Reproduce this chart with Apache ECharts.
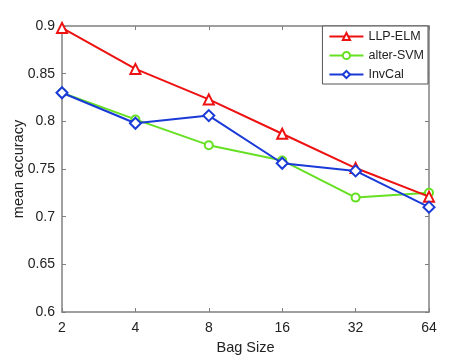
<!DOCTYPE html>
<html>
<head>
<meta charset="utf-8">
<script src="https://cdn.jsdelivr.net/npm/echarts@6/dist/echarts.min.js"></script>
<style>html,body{margin:0;padding:0;background:#fff}#c{width:474px;height:357px}</style>
</head>
<body>
<div id="c"></div>
<script>
var categories = ['2', '4', '8', '16', '32', '64'];
var llpElm = [0.898, 0.855, 0.823, 0.787, 0.751, 0.721];
var alterSvm = [0.830, 0.802, 0.775, 0.759, 0.720, 0.725];
var invCal = [0.830, 0.798, 0.806, 0.756, 0.748, 0.710];
var seriesNames = ['LLP-ELM', 'alter-SVM', 'InvCal'];

var font = 'Liberation Sans, Arial, sans-serif';
var axisLineStyle = {color: '#808080', width: 1.5};
var chart = echarts.init(document.getElementById('c'));
chart.setOption({
  animation: false,
  grid: {left: 62, right: 45, top: 26, bottom: 45, outerBoundsMode: 'none', containLabel: false},
  legend: {
    right: 46, top: 26, orient: 'vertical',
    data: seriesNames,
    backgroundColor: '#fff',
    borderColor: '#555', borderWidth: 1,
    padding: [4, 4, 3, 6],
    itemWidth: 34, itemHeight: 9, itemGap: 6,
    textStyle: {fontFamily: font, fontSize: 12.5, color: '#222'}
  },
  xAxis: [{
    type: 'category', data: categories, boundaryGap: false,
    name: 'Bag Size', nameLocation: 'middle', nameGap: 28,
    nameTextStyle: {fontFamily: font, fontSize: 14.5, color: '#222'},
    axisLine: {lineStyle: axisLineStyle},
    axisTick: {inside: true, length: 4, lineStyle: {color: '#808080'}},
    axisLabel: {fontFamily: font, fontSize: 14, color: '#222', margin: 9},
    splitLine: {show: false}
  }, {
    type: 'category', data: categories, boundaryGap: false, position: 'top',
    axisLine: {lineStyle: axisLineStyle},
    axisTick: {inside: true, length: 4, lineStyle: {color: '#808080'}},
    axisLabel: {show: false}
  }],
  yAxis: [{
    type: 'value', min: 0.6, max: 0.9, interval: 0.05,
    name: 'mean accuracy', nameLocation: 'middle', nameGap: 36, nameMoveOverlap: false,
    nameTextStyle: {fontFamily: font, fontSize: 14.5, color: '#222'},
    axisLine: {show: true, lineStyle: axisLineStyle},
    axisTick: {show: true, inside: true, length: 4, lineStyle: {color: '#808080'}},
    axisLabel: {fontFamily: font, fontSize: 14, color: '#222', margin: 7,
      formatter: function (v) { return String(+v.toFixed(2)); }},
    splitLine: {show: false}
  }, {
    type: 'value', min: 0.6, max: 0.9, interval: 0.05, position: 'right',
    axisLine: {show: true, lineStyle: axisLineStyle},
    axisTick: {show: true, inside: true, length: 4, lineStyle: {color: '#808080'}},
    axisLabel: {show: false},
    splitLine: {show: false}
  }],
  series: [{
    name: seriesNames[0], type: 'line', data: llpElm,
    symbol: 'emptyTriangle', symbolSize: 10,
    lineStyle: {color: '#ee1111', width: 2},
    itemStyle: {color: '#ee1111', borderWidth: 2}, z: 3
  }, {
    name: seriesNames[1], type: 'line', data: alterSvm,
    symbol: 'emptyCircle', symbolSize: 8,
    lineStyle: {color: '#66e022', width: 2},
    itemStyle: {color: '#66e022', borderWidth: 2}, z: 2
  }, {
    name: seriesNames[2], type: 'line', data: invCal,
    symbol: 'emptyDiamond', symbolSize: 11,
    lineStyle: {color: '#1a3ad8', width: 2},
    itemStyle: {color: '#1a3ad8', borderWidth: 2}, z: 4
  }]
});
</script>
</body>
</html>
